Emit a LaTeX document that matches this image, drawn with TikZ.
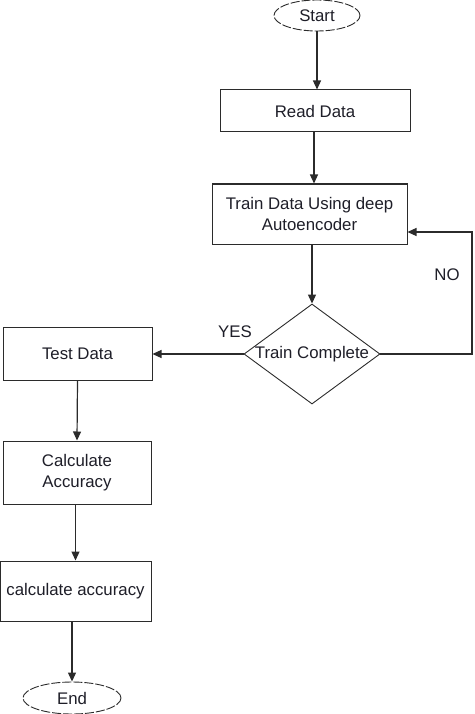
\documentclass[tikz,border=0pt]{standalone}
\usepackage{fontspec}
\setmainfont{Liberation Sans}
\usetikzlibrary{arrows.meta,positioning,shapes.geometric,calc}
\definecolor{cLine}{HTML}{2B2B2B}
\definecolor{cText}{HTML}{1E1E28}

\begin{document}
\begin{tikzpicture}[
    x=1pt, y=-1pt,
    font=\fontsize{16.8}{21.5}\selectfont,
    text=cText,
    procbox/.style={rectangle, draw=cLine, line width=1pt, align=center, inner sep=1pt},
    termnode/.style={ellipse, draw=cLine, line width=0.9pt, dash pattern=on 9pt off 2pt, inner sep=0pt},
    decide/.style={diamond, draw=cLine, line width=0.9pt, aspect=1.36, inner sep=0pt,
      minimum width=136pt, minimum height=100pt},
    flow/.style={-{Triangle[length=9pt,width=8pt]}, line width=1.2pt, draw=cLine},
    lbl/.style={inner sep=1pt}]

    \useasboundingbox (0,0) rectangle (474,714);

    \node[termnode, minimum width=86pt, minimum height=31pt] (start) at (317,15.5) {Start};
    \node[procbox, minimum width=190pt, minimum height=42pt] (read) at (315,111) {Read Data};
    \node[procbox, minimum width=195pt, minimum height=60pt] (train) at (309.5,214)
      {Train Data Using deep\\Autoencoder};
    \node[decide] (check) at (312,354) {Train Complete};
    \node[procbox, minimum width=149pt, minimum height=53pt] (test) at (77.5,353.5) {Test Data};
    \node[procbox, minimum width=148pt, minimum height=63pt] (calc) at (77,472.5)
      {Calculate\\Accuracy};
    \node[procbox, minimum width=151pt, minimum height=60pt] (acc) at (75.5,591)
      {calculate accuracy};
    \node[termnode, minimum width=98pt, minimum height=32pt] (end) at (72,698) {End};

    \coordinate (nocorner) at (472,232);

    \draw[flow] (start.south) -- (start.south |- read.north);
    \draw[flow] (read.south -| 314,0) -- (train.north -| 314,0);
    \draw[flow] (train.south -| check.north) -- (check.north);
    \draw[flow] (check.west) -- (test.east |- check.west);
    \draw[flow] (check.east) -| (nocorner) -- (train.east |- nocorner);
    \draw[flow] (test.south) -- (calc.north);
    \draw[flow] (calc.south -| acc.south) -- (acc.north);
    \draw[flow] (acc.south -| end.north) -- (end.north);

    \node[lbl] (yes) at (235,332) {YES};
    \node[lbl] (no) at (447,275) {NO};
  \end{tikzpicture}
\end{document}
